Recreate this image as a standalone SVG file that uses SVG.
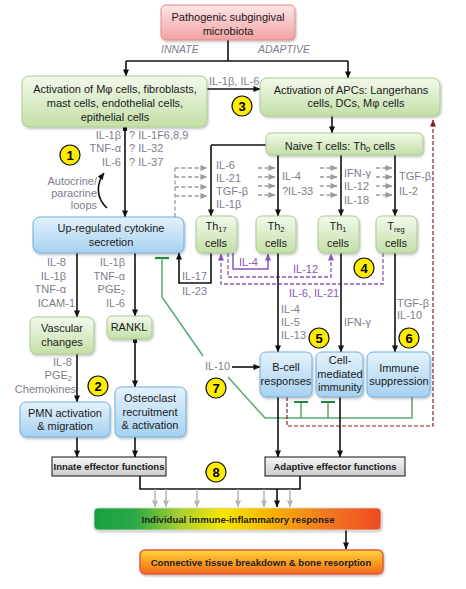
<svg xmlns="http://www.w3.org/2000/svg" width="466" height="589" viewBox="0 0 466 589">
<style>
text{font-family:"Liberation Sans",Arial,sans-serif;}
.bx{font-size:11px;fill:#1a1a1a;text-anchor:middle;}
.ck{font-size:11px;fill:#7d7d8c;}
.pu{font-size:11px;fill:#8a55b8;}
.it{font-size:10.5px;fill:#7d7d8c;font-style:italic;}
.ef{font-size:9.5px;font-weight:bold;fill:#1a1a1a;text-anchor:middle;}
.bar{font-size:9.6px;font-weight:bold;fill:#222;text-anchor:middle;}
.num{font-size:13px;font-weight:bold;fill:#000;text-anchor:middle;}
.g{fill:url(#gGreen);stroke:#a9c992;stroke-width:1;filter:url(#sh);}
.b{fill:url(#gBlue);stroke:#6eaedb;stroke-width:1;filter:url(#sh);}
.c{fill:#ffec00;stroke:#111;stroke-width:1.2;}
.k{fill:none;stroke:#111;stroke-width:1.6;}
.ka{fill:none;stroke:#111;stroke-width:1.6;marker-end:url(#aK);}
.gd{fill:none;stroke:#9a9a9a;stroke-width:1.3;stroke-dasharray:4,2.5;}
.gda{fill:none;stroke:#9a9a9a;stroke-width:1.3;stroke-dasharray:4,2.5;marker-end:url(#aG);}
.pda{fill:none;stroke:#8a55b8;stroke-width:1.3;stroke-dasharray:4,2;marker-end:url(#aP);}
.psa{fill:none;stroke:#8a55b8;stroke-width:1.5;marker-end:url(#aP);}
.gr{fill:none;stroke:#5aa870;stroke-width:1.5;}
.grt{fill:none;stroke:#1a8a40;stroke-width:2.2;}
.rd{fill:none;stroke:#8b1f1f;stroke-width:1.2;stroke-dasharray:4,2;}
.la{fill:none;stroke:#b4b4b4;stroke-width:1.5;marker-end:url(#aL);}
</style>
<defs>
<linearGradient id="gGreen" x1="0" y1="0" x2="0" y2="1"><stop offset="0" stop-color="#f3f9ec"/><stop offset="1" stop-color="#c4dfa6"/></linearGradient>
<linearGradient id="gBlue" x1="0" y1="0" x2="0" y2="1"><stop offset="0" stop-color="#e4f2fc"/><stop offset="1" stop-color="#a6d1f0"/></linearGradient>
<linearGradient id="gPink" x1="0" y1="0" x2="0" y2="1"><stop offset="0" stop-color="#fde6e6"/><stop offset="1" stop-color="#f2a2a2"/></linearGradient>
<linearGradient id="gGrey" x1="0" y1="0" x2="0" y2="1"><stop offset="0" stop-color="#f6f6f6"/><stop offset="1" stop-color="#cdcdcd"/></linearGradient>
<linearGradient id="gBar" x1="0" y1="0" x2="1" y2="0"><stop offset="0" stop-color="#16a040"/><stop offset="0.14" stop-color="#2aa846"/><stop offset="0.3" stop-color="#a8d030"/><stop offset="0.45" stop-color="#f6e600"/><stop offset="0.6" stop-color="#f8b800"/><stop offset="0.8" stop-color="#f47a20"/><stop offset="1" stop-color="#ee4a22"/></linearGradient>
<linearGradient id="gOr" x1="0" y1="0" x2="0" y2="1"><stop offset="0" stop-color="#ffd440"/><stop offset="0.5" stop-color="#f9a020"/><stop offset="1" stop-color="#f06a20"/></linearGradient>
<filter id="sh" x="-10%" y="-10%" width="130%" height="140%"><feDropShadow dx="1" dy="1.5" stdDeviation="1" flood-color="#000" flood-opacity="0.25"/></filter>
<marker id="aK" viewBox="0 0 8 8" refX="7.5" refY="4" markerWidth="7" markerHeight="7" markerUnits="userSpaceOnUse" orient="auto"><path d="M0,0.5 L8,4 L0,7.5 z" fill="#111"/></marker>
<marker id="aG" viewBox="0 0 8 8" refX="7.5" refY="4" markerWidth="7" markerHeight="7" markerUnits="userSpaceOnUse" orient="auto"><path d="M0,0.5 L8,4 L0,7.5 z" fill="#9a9a9a"/></marker>
<marker id="aP" viewBox="0 0 8 8" refX="7.5" refY="4" markerWidth="7" markerHeight="7" markerUnits="userSpaceOnUse" orient="auto"><path d="M0,0.5 L8,4 L0,7.5 z" fill="#8a55b8"/></marker>
<marker id="aR" viewBox="0 0 8 8" refX="7.5" refY="4" markerWidth="7" markerHeight="7" markerUnits="userSpaceOnUse" orient="auto"><path d="M0,0.5 L8,4 L0,7.5 z" fill="#8b1f1f"/></marker>
<marker id="aL" viewBox="0 0 8 8" refX="7.5" refY="4" markerWidth="7" markerHeight="7" markerUnits="userSpaceOnUse" orient="auto"><path d="M0,0.5 L8,4 L0,7.5 z" fill="#b4b4b4"/></marker>
</defs>
<rect width="466" height="589" fill="#fff"/>

<g id="connectors">
<path class="k" d="M228,40 V61 M126,61 H348"/>
<path class="ka" d="M126,61 V76"/>
<path class="ka" d="M348,61 V78"/>
<path class="ka" d="M207,89 H260"/>
<path class="ka" d="M332,116 V133"/>
<rect x="123" y="127" width="4" height="4" fill="#111"/>
<path class="ka" d="M125,129 V217"/>
<path class="ka" d="M107,208 C96,198 96,184 104,173"/>
<path class="k" d="M266,145 H211"/>
<path class="ka" d="M211,145 V216"/>
<path class="ka" d="M278,155 V216"/>
<path class="ka" d="M341,155 V216"/>
<path class="ka" d="M395,155 V216"/>
<path class="gd" d="M175,217 V168"/>
<path class="gda" d="M175,168 H207"/>
<path class="gda" d="M175,177 H207"/>
<path class="gda" d="M175,187 H207"/>
<path class="gda" d="M175,196 H207"/>
<path class="gda" d="M258,168 H275"/>
<path class="gda" d="M258,177 H275"/>
<path class="gda" d="M258,186 H275"/>
<path class="gda" d="M258,195 H275"/>
<path class="gda" d="M320,168 H337"/>
<path class="gda" d="M320,177 H337"/>
<path class="gda" d="M320,186 H337"/>
<path class="gda" d="M320,195 H337"/>
<path class="gda" d="M376,168 H392"/>
<path class="gda" d="M376,177 H392"/>
<path class="gda" d="M376,186 H392"/>
<path class="gda" d="M376,195 H392"/>
<path class="ka" d="M211,253 V283 H179 V253"/>
<path class="pda" d="M383,253 V284 H221 V254"/>
<path class="pda" d="M228,253 V277 H331 V254"/>
<path class="psa" d="M233,253 V269 H268 V254"/>
<path class="ka" d="M278,253 V352"/>
<path class="ka" d="M341,253 V352"/>
<path class="ka" d="M395,253 V352"/>
<path class="ka" d="M77,253 V317"/>
<path class="ka" d="M135,253 V316"/>
<path class="ka" d="M77,354 V402"/>
<rect x="133" y="339" width="4" height="4" fill="#111"/>
<path class="ka" d="M135,341 V387"/>
<path class="ka" d="M77,437 V457"/>
<path class="ka" d="M135,437 V457"/>
<path class="ka" d="M232,367 H260"/>
<path class="grt" d="M155,258 H169"/>
<path class="gr" d="M162,258 V297 L203,356"/>
<path class="gr" d="M228,377 L265,418 H412 V397"/>
<path class="gr" d="M301,418 V402 M328,418 V402"/>
<path class="grt" d="M294,402 H308 M321,402 H335"/>
<path class="rd" d="M287,397 V426 H433 V120" marker-end="url(#aR)"/>
<path class="ka" d="M278,397 V457"/>
<path class="ka" d="M340,397 V457"/>
<path class="k" d="M140,476 V489 H300 V476"/>
<path class="la" d="M155,489 V507"/>
<path class="la" d="M166,489 V507"/>
<path class="la" d="M197,489 V507"/>
<path class="la" d="M238,489 V507"/>
<path class="la" d="M264,489 V507"/>
<path class="la" d="M290,489 V507"/>
<path class="ka" d="M277,489 V507"/>
<path class="ka" d="M346,530 V549"/>
</g>

<g id="microbiota">
<rect x="161" y="5" width="134" height="35" rx="5" fill="url(#gPink)" stroke="#e48a8a" filter="url(#sh)"/>
<text class="bx" x="228" y="21">Pathogenic subgingival</text>
<text class="bx" x="228" y="35">microbiota</text>
</g>
<text class="it" x="161" y="53">INNATE</text>
<text class="it" x="258" y="53">ADAPTIVE</text>

<g id="innate-activation">
<rect class="g" x="22" y="76" width="185" height="51" rx="7"/>
<text class="bx" x="115" y="93">Activation of Mφ cells, fibroblasts,</text>
<text class="bx" x="115" y="107">mast cells, endothelial cells,</text>
<text class="bx" x="115" y="121">epithelial cells</text>
</g>

<text class="ck" x="209" y="85">IL-1β, IL-6</text>

<g id="apc-activation">
<rect class="g" x="260" y="78" width="180" height="38" rx="7"/>
<text class="bx" x="351" y="94">Activation of APCs: Langerhans</text>
<text class="bx" x="356" y="107">cells, DCs, Mφ cells</text>
</g>

<g id="naive-t">
<rect class="g" x="266" y="133" width="157" height="22" rx="5"/>
<text class="bx" x="340" y="150">Naive T cells: Th<tspan font-size="7.5" dy="2">0</tspan><tspan dy="-2"> cells</tspan></text>
</g>

<g id="c1"><circle class="c" cx="70" cy="155" r="10"/><text class="num" x="70" y="160">1</text></g>
<g id="c2"><circle class="c" cx="98" cy="386" r="10"/><text class="num" x="98" y="391">2</text></g>
<g id="c3"><circle class="c" cx="242" cy="106" r="10"/><text class="num" x="242" y="111">3</text></g>
<g id="c4"><circle class="c" cx="364" cy="268" r="10"/><text class="num" x="364" y="273">4</text></g>
<g id="c5"><circle class="c" cx="319" cy="338" r="10"/><text class="num" x="319" y="343">5</text></g>
<g id="c6"><circle class="c" cx="409" cy="338" r="10"/><text class="num" x="409" y="343">6</text></g>
<g id="c7"><circle class="c" cx="216" cy="388" r="10"/><text class="num" x="216" y="393">7</text></g>
<g id="c8"><circle class="c" cx="216" cy="472" r="10"/><text class="num" x="216" y="477">8</text></g>

<g id="labels">
<text class="ck" x="121" y="139" text-anchor="end">IL-1β</text>
<text class="ck" x="129" y="139">? IL-1F6,8,9</text>
<text class="ck" x="121" y="152" text-anchor="end">TNF-α</text>
<text class="ck" x="129" y="152">? IL-32</text>
<text class="ck" x="121" y="166" text-anchor="end">IL-6</text>
<text class="ck" x="129" y="166">? IL-37</text>
<text class="ck" x="97" y="185" text-anchor="end" font-size="9.5">Autocrine/</text>
<text class="ck" x="97" y="197" text-anchor="end" font-size="9.5">paracrine</text>
<text class="ck" x="97" y="209" text-anchor="end" font-size="9.5">loops</text>
<text class="ck" x="216" y="169">IL-6</text>
<text class="ck" x="216" y="182">IL-21</text>
<text class="ck" x="216" y="195">TGF-β</text>
<text class="ck" x="216" y="208">IL-1β</text>
<text class="ck" x="282" y="180">IL-4</text>
<text class="ck" x="282" y="195">?IL-33</text>
<text class="ck" x="344" y="177">IFN-γ</text>
<text class="ck" x="344" y="190">IL-12</text>
<text class="ck" x="344" y="204">IL-18</text>
<text class="ck" x="399" y="180">TGF-β</text>
<text class="ck" x="399" y="195">IL-2</text>
<text class="ck" x="66" y="266" text-anchor="end">IL-8</text>
<text class="ck" x="66" y="280" text-anchor="end">IL-1β</text>
<text class="ck" x="66" y="293" text-anchor="end">TNF-α</text>
<text class="ck" x="75" y="307" text-anchor="end">ICAM-1</text>
<text class="ck" x="125" y="266" text-anchor="end">IL-1β</text>
<text class="ck" x="125" y="280" text-anchor="end">TNF-α</text>
<text class="ck" x="125" y="293" text-anchor="end">PGE<tspan font-size="7.5" dy="2">2</tspan></text>
<text class="ck" x="125" y="307" text-anchor="end">IL-6</text>
<text class="ck" x="72" y="366" text-anchor="end">IL-8</text>
<text class="ck" x="72" y="379" text-anchor="end">PGE<tspan font-size="7.5" dy="2">2</tspan></text>
<text class="ck" x="76" y="393" text-anchor="end">Chemokines</text>
<text class="ck" x="182" y="280">IL-17</text>
<text class="ck" x="182" y="295">IL-23</text>
<text class="pu" x="239" y="266">IL-4</text>
<text class="pu" x="293" y="273">IL-12</text>
<text class="pu" x="289" y="297">IL-6, IL-21</text>
<text class="ck" x="281" y="313">IL-4</text>
<text class="ck" x="281" y="326">IL-5</text>
<text class="ck" x="281" y="339">IL-13</text>
<text class="ck" x="344" y="326">IFN-γ</text>
<text class="ck" x="397" y="307">TGF-β</text>
<text class="ck" x="397" y="319">IL-10</text>
<text class="ck" x="205" y="370">IL-10</text>
</g>

<g id="cytokine-secretion">
<rect class="b" x="33" y="217" width="151" height="36" rx="7"/>
<text class="bx" x="111" y="232">Up-regulated cytokine</text>
<text class="bx" x="111" y="246">secretion</text>
</g>

<g id="th17"><rect class="g" x="196" y="216" width="41" height="37" rx="6"/>
<text class="bx" x="216" y="230">Th<tspan font-size="7.5" dy="2">17</tspan></text><text class="bx" x="216" y="247">cells</text></g>
<g id="th2"><rect class="g" x="256" y="216" width="40" height="37" rx="6"/>
<text class="bx" x="276" y="230">Th<tspan font-size="7.5" dy="2">2</tspan></text><text class="bx" x="276" y="247">cells</text></g>
<g id="th1"><rect class="g" x="318" y="216" width="41" height="37" rx="6"/>
<text class="bx" x="338" y="230">Th<tspan font-size="7.5" dy="2">1</tspan></text><text class="bx" x="338" y="247">cells</text></g>
<g id="treg"><rect class="g" x="376" y="216" width="41" height="37" rx="6"/>
<text class="bx" x="396" y="230">T<tspan font-size="7.5" dy="2">reg</tspan></text><text class="bx" x="396" y="247">cells</text></g>

<g id="vascular"><rect class="g" x="30" y="317" width="64" height="37" rx="6"/>
<text class="bx" x="62" y="332">Vascular</text><text class="bx" x="62" y="346">changes</text></g>
<g id="rankl"><rect class="g" x="107" y="316" width="45" height="23" rx="5"/>
<text class="bx" x="129" y="331">RANKL</text></g>

<g id="pmn"><rect class="b" x="20" y="402" width="90" height="35" rx="6"/>
<text class="bx" x="65" y="417">PMN activation</text><text class="bx" x="65" y="430">&amp; migration</text></g>
<g id="osteoclast"><rect class="b" x="115" y="387" width="71" height="50" rx="6"/>
<text class="bx" x="150" y="402">Osteoclast</text><text class="bx" x="150" y="416">recruitment</text><text class="bx" x="150" y="429">&amp; activation</text></g>

<g id="bcell"><rect class="b" x="260" y="352" width="52" height="45" rx="6"/>
<text class="bx" x="286" y="371">B-cell</text><text class="bx" x="286" y="385">responses</text></g>
<g id="cellmed"><rect class="b" x="316" y="352" width="47" height="45" rx="6"/>
<text class="bx" x="340" y="364">Cell-</text><text class="bx" x="340" y="378">mediated</text><text class="bx" x="340" y="391">immunity</text></g>
<g id="suppression"><rect class="b" x="367" y="352" width="63" height="45" rx="6"/>
<text class="bx" x="399" y="372">Immune</text><text class="bx" x="399" y="385">suppression</text></g>

<g id="innate-effector"><rect x="52" y="457" width="114" height="19" fill="url(#gGrey)" stroke="#111" stroke-width="1"/>
<text class="ef" x="109" y="470">Innate effector functions</text></g>
<g id="adaptive-effector"><rect x="265" y="457" width="140" height="19" fill="url(#gGrey)" stroke="#111" stroke-width="1"/>
<text class="ef" x="335" y="470">Adaptive effector functions</text></g>

<g id="inflammatory-response"><rect x="94" y="508" width="287" height="22" rx="4" fill="url(#gBar)" stroke="#d8d8d8" stroke-width="0.8" filter="url(#sh)"/>
<text class="bar" x="238" y="523">Individual immune-inflammatory response</text></g>
<g id="tissue-breakdown"><rect x="140" y="550" width="243" height="24" rx="5" fill="url(#gOr)" stroke="#e8583a" stroke-width="1.5" filter="url(#sh)"/>
<text class="bar" x="261" y="566">Connective tissue breakdown &amp; bone resorption</text></g>
</svg>
